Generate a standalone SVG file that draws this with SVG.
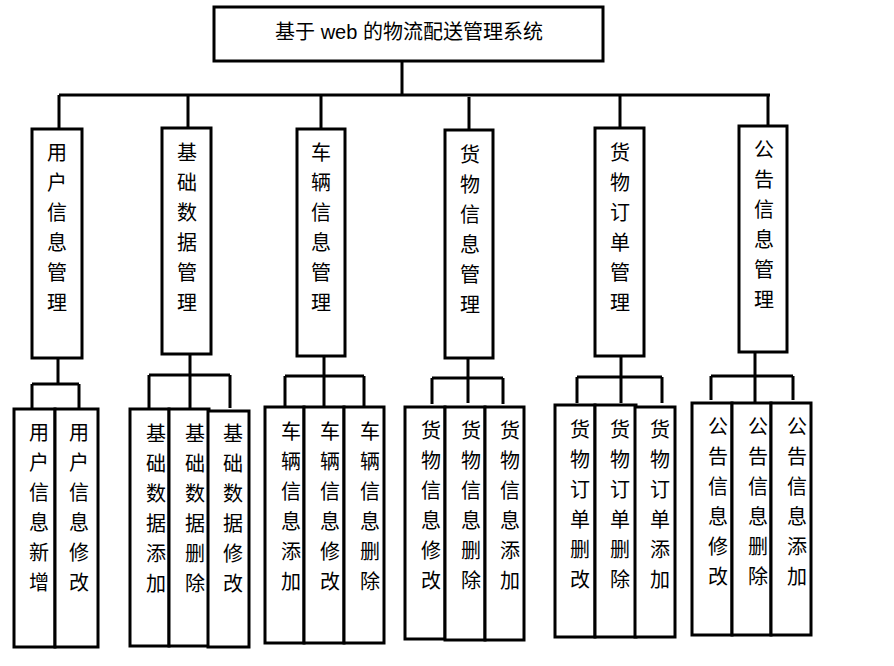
<svg xmlns="http://www.w3.org/2000/svg" width="894" height="666" viewBox="0 0 894 666">
<style>
.b{fill:#fff;stroke:#000;stroke-width:3}
.c{fill:none;stroke:#000;stroke-width:3}
text{font-family:"Noto Sans CJK SC","Liberation Sans",sans-serif;font-size:20px;fill:#000;text-anchor:middle}
.t{font-family:"Liberation Sans","Noto Sans CJK SC",sans-serif;font-size:20px}
</style>
<rect width="894" height="666" fill="#fff"/>
<g id="connectors">
<path class="c" d="M402,61V95M59,95H770M59,95V129M188,95V128M321,95V129M469,97V130M620,95V128M768,95V126"/>
<path class="c" d="M58,358V384M32,384H79M32,384V409M79,384V409"/>
<path class="c" d="M190,354V409M149,375H230M149,375V409M230,375V408"/>
<path class="c" d="M324,356V407M285,376H364M285,376V407M364,376V407"/>
<path class="c" d="M468,358V403M432,378H503M432,378V404M503,378V404"/>
<path class="c" d="M621,356V403M577,377H662M577,377V403M662,377V403"/>
<path class="c" d="M755,352V403M711,376H793M711,376V400M793,376V400"/>
</g>
<g id="root"><rect class="b" x="214" y="7" width="389" height="54"/><text class="t" x="409" y="39">基于 web 的物流配送管理系统</text></g>
<g id="n1"><rect class="b" x="32" y="129" width="50" height="229"/><text><tspan x="57" y="160">用</tspan><tspan x="57" y="190">户</tspan><tspan x="57" y="220">信</tspan><tspan x="57" y="250">息</tspan><tspan x="57" y="280">管</tspan><tspan x="57" y="310">理</tspan></text></g>
<g id="n2"><rect class="b" x="162" y="128" width="49" height="226"/><text><tspan x="187" y="160">基</tspan><tspan x="187" y="190">础</tspan><tspan x="187" y="220">数</tspan><tspan x="187" y="250">据</tspan><tspan x="187" y="280">管</tspan><tspan x="187" y="310">理</tspan></text></g>
<g id="n3"><rect class="b" x="297" y="129" width="48" height="227"/><text><tspan x="321" y="160">车</tspan><tspan x="321" y="190">辆</tspan><tspan x="321" y="220">信</tspan><tspan x="321" y="250">息</tspan><tspan x="321" y="280">管</tspan><tspan x="321" y="310">理</tspan></text></g>
<g id="n4"><rect class="b" x="445" y="130" width="48" height="228"/><text><tspan x="470" y="162">货</tspan><tspan x="470" y="192">物</tspan><tspan x="470" y="222">信</tspan><tspan x="470" y="252">息</tspan><tspan x="470" y="282">管</tspan><tspan x="470" y="312">理</tspan></text></g>
<g id="n5"><rect class="b" x="595" y="128" width="49" height="228"/><text><tspan x="620" y="160">货</tspan><tspan x="620" y="190">物</tspan><tspan x="620" y="220">订</tspan><tspan x="620" y="250">单</tspan><tspan x="620" y="280">管</tspan><tspan x="620" y="310">理</tspan></text></g>
<g id="n6"><rect class="b" x="739" y="126" width="48" height="226"/><text><tspan x="764" y="157">公</tspan><tspan x="764" y="187">告</tspan><tspan x="764" y="217">信</tspan><tspan x="764" y="247">息</tspan><tspan x="764" y="277">管</tspan><tspan x="764" y="307">理</tspan></text></g>

<g id="n1a"><rect class="b" x="14" y="409" width="41" height="238"/><text><tspan x="39" y="440">用</tspan><tspan x="39" y="470">户</tspan><tspan x="39" y="500">信</tspan><tspan x="39" y="530">息</tspan><tspan x="39" y="560">新</tspan><tspan x="39" y="590">增</tspan></text></g>
<g id="n1b"><rect class="b" x="55" y="409" width="43" height="238"/><text><tspan x="79" y="440">用</tspan><tspan x="79" y="470">户</tspan><tspan x="79" y="500">信</tspan><tspan x="79" y="530">息</tspan><tspan x="79" y="560">修</tspan><tspan x="79" y="590">改</tspan></text></g>

<g id="n2a"><rect class="b" x="130" y="409" width="39" height="237"/><text><tspan x="156" y="441">基</tspan><tspan x="156" y="471">础</tspan><tspan x="156" y="501">数</tspan><tspan x="156" y="531">据</tspan><tspan x="156" y="561">添</tspan><tspan x="156" y="591">加</tspan></text></g>
<g id="n2b"><rect class="b" x="169" y="409" width="40" height="237"/><text><tspan x="195" y="441">基</tspan><tspan x="195" y="471">础</tspan><tspan x="195" y="501">数</tspan><tspan x="195" y="531">据</tspan><tspan x="195" y="561">删</tspan><tspan x="195" y="591">除</tspan></text></g>
<g id="n2c"><rect class="b" x="208" y="411" width="41" height="236"/><text><tspan x="233" y="441">基</tspan><tspan x="233" y="471">础</tspan><tspan x="233" y="501">数</tspan><tspan x="233" y="531">据</tspan><tspan x="233" y="561">修</tspan><tspan x="233" y="591">改</tspan></text></g>

<g id="n3a"><rect class="b" x="265" y="407" width="39" height="236"/><text><tspan x="291" y="439">车</tspan><tspan x="291" y="469">辆</tspan><tspan x="291" y="499">信</tspan><tspan x="291" y="529">息</tspan><tspan x="291" y="559">添</tspan><tspan x="291" y="589">加</tspan></text></g>
<g id="n3b"><rect class="b" x="304" y="407" width="40" height="236"/><text><tspan x="330" y="439">车</tspan><tspan x="330" y="469">辆</tspan><tspan x="330" y="499">信</tspan><tspan x="330" y="529">息</tspan><tspan x="330" y="559">修</tspan><tspan x="330" y="589">改</tspan></text></g>
<g id="n3c"><rect class="b" x="344" y="407" width="40" height="236"/><text><tspan x="370" y="439">车</tspan><tspan x="370" y="469">辆</tspan><tspan x="370" y="499">信</tspan><tspan x="370" y="529">息</tspan><tspan x="370" y="559">删</tspan><tspan x="370" y="589">除</tspan></text></g>

<g id="n4a"><rect class="b" x="405" y="407" width="40" height="232"/><text><tspan x="431" y="438">货</tspan><tspan x="431" y="468">物</tspan><tspan x="431" y="498">信</tspan><tspan x="431" y="528">息</tspan><tspan x="431" y="558">修</tspan><tspan x="431" y="588">改</tspan></text></g>
<g id="n4b"><rect class="b" x="445" y="407" width="40" height="233"/><text><tspan x="471" y="438">货</tspan><tspan x="471" y="468">物</tspan><tspan x="471" y="498">信</tspan><tspan x="471" y="528">息</tspan><tspan x="471" y="558">删</tspan><tspan x="471" y="588">除</tspan></text></g>
<g id="n4c"><rect class="b" x="485" y="407" width="39" height="233"/><text><tspan x="510" y="438">货</tspan><tspan x="510" y="468">物</tspan><tspan x="510" y="498">信</tspan><tspan x="510" y="528">息</tspan><tspan x="510" y="558">添</tspan><tspan x="510" y="588">加</tspan></text></g>

<g id="n5a"><rect class="b" x="555" y="405" width="40" height="232"/><text><tspan x="580" y="437">货</tspan><tspan x="580" y="467">物</tspan><tspan x="580" y="497">订</tspan><tspan x="580" y="527">单</tspan><tspan x="580" y="557">删</tspan><tspan x="580" y="587">改</tspan></text></g>
<g id="n5b"><rect class="b" x="595" y="405" width="41" height="232"/><text><tspan x="620" y="437">货</tspan><tspan x="620" y="467">物</tspan><tspan x="620" y="497">订</tspan><tspan x="620" y="527">单</tspan><tspan x="620" y="557">删</tspan><tspan x="620" y="587">除</tspan></text></g>
<g id="n5c"><rect class="b" x="635" y="407" width="40" height="230"/><text><tspan x="660" y="437">货</tspan><tspan x="660" y="467">物</tspan><tspan x="660" y="497">订</tspan><tspan x="660" y="527">单</tspan><tspan x="660" y="557">添</tspan><tspan x="660" y="587">加</tspan></text></g>

<g id="n6a"><rect class="b" x="692" y="403" width="40" height="232"/><text><tspan x="718" y="434">公</tspan><tspan x="718" y="464">告</tspan><tspan x="718" y="494">信</tspan><tspan x="718" y="524">息</tspan><tspan x="718" y="554">修</tspan><tspan x="718" y="584">改</tspan></text></g>
<g id="n6b"><rect class="b" x="732" y="403" width="39" height="232"/><text><tspan x="758" y="434">公</tspan><tspan x="758" y="464">告</tspan><tspan x="758" y="494">信</tspan><tspan x="758" y="524">息</tspan><tspan x="758" y="554">删</tspan><tspan x="758" y="584">除</tspan></text></g>
<g id="n6c"><rect class="b" x="771" y="403" width="40" height="232"/><text><tspan x="797" y="434">公</tspan><tspan x="797" y="464">告</tspan><tspan x="797" y="494">信</tspan><tspan x="797" y="524">息</tspan><tspan x="797" y="554">添</tspan><tspan x="797" y="584">加</tspan></text></g>
</svg>
